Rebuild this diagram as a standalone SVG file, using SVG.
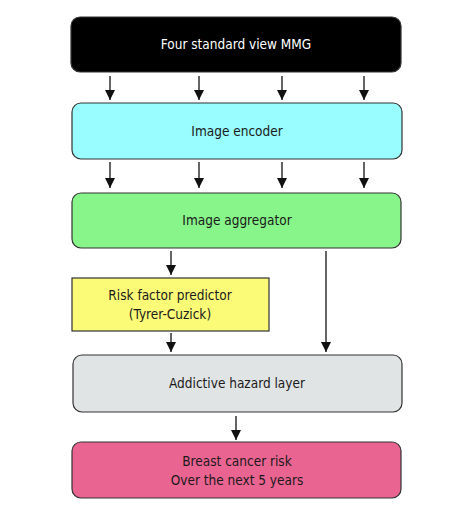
<svg xmlns="http://www.w3.org/2000/svg" width="474" height="515" viewBox="0 0 474 515">
<defs>
<marker id="ah" viewBox="0 0 10 10" refX="10" refY="5" markerWidth="10" markerHeight="10" markerUnits="userSpaceOnUse" orient="auto">
<path d="M0,0 L10,5 L0,10 z" fill="#111"/>
</marker>
</defs>
<style>
.box{stroke:#333;stroke-width:1.2}
.t{font-family:"DejaVu Sans Condensed","DejaVu Sans",sans-serif;font-stretch:condensed;font-size:13.5px;text-anchor:middle;fill:#1a1a1a}
.c line{stroke:#111;stroke-width:1.3;marker-end:url(#ah)}
</style>
<rect width="474" height="515" fill="#fff"/>
<g id="mmg"><rect class="box" x="71" y="17" width="330" height="55" rx="9" fill="#000"/><text class="t" x="236" y="49" style="fill:#fff">Four standard view MMG</text></g>
<g id="encoder"><rect class="box" x="72" y="103" width="330" height="56" rx="9" fill="#99fcff"/><text class="t" x="237" y="136">Image encoder</text></g>
<g id="aggregator"><rect class="box" x="72" y="193" width="329" height="55" rx="9" fill="#88f58a"/><text class="t" x="237" y="225">Image aggregator</text></g>
<g id="risk"><rect class="box" x="72" y="278" width="197" height="53" fill="#fbfb78"/><text class="t" x="170" y="300">Risk factor predictor</text><text class="t" x="170" y="319">(Tyrer-Cuzick)</text></g>
<g id="hazard"><rect class="box" x="73" y="355" width="329" height="57" rx="9" fill="#e1e4e5"/><text class="t" x="237" y="388">Addictive hazard layer</text></g>
<g id="output"><rect class="box" x="72" y="442" width="329" height="56" rx="9" fill="#ea6492"/><text class="t" x="237" y="466">Breast cancer risk</text><text class="t" x="237" y="485">Over the next 5 years</text></g>
<g class="c" id="connectors">
<line x1="110" y1="76" x2="110" y2="100"/>
<line x1="199" y1="76" x2="199" y2="100"/>
<line x1="282" y1="76" x2="282" y2="100"/>
<line x1="364" y1="76" x2="364" y2="100"/>
<line x1="110" y1="162" x2="110" y2="188"/>
<line x1="199" y1="162" x2="199" y2="188"/>
<line x1="282" y1="162" x2="282" y2="188"/>
<line x1="364" y1="162" x2="364" y2="188"/>
<line x1="171" y1="251" x2="171" y2="275"/>
<line x1="326" y1="251" x2="326" y2="352"/>
<line x1="171" y1="333" x2="171" y2="352"/>
<line x1="236" y1="416" x2="236" y2="440"/>
</g>
</svg>
